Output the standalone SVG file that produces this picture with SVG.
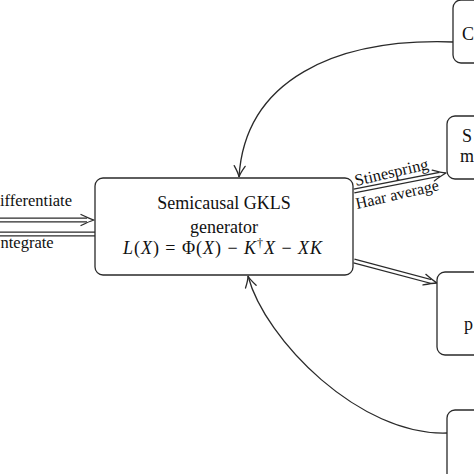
<svg xmlns="http://www.w3.org/2000/svg" xmlns:xlink="http://www.w3.org/1999/xlink" width="474" height="474" viewBox="0 0 474 474">
<style>
.box{fill:#fff;stroke:#2a2a2a;stroke-width:1.3}
.t{font-family:"Liberation Serif","Times New Roman",serif;fill:#111}
.m{font-size:18px}
.l{font-size:16.5px}
.i{font-style:italic}
.curve{fill:none;stroke:#2a2a2a;stroke-width:1.3}
.dbl-o{fill:none;stroke:#2a2a2a;stroke-width:5}
.dbl-i{fill:none;stroke:#fff;stroke-width:2.6}
.head{fill:none;stroke:#2a2a2a;stroke-width:1.3;stroke-linecap:round;stroke-linejoin:round}
</style>
<defs>
<marker id="vh" markerUnits="userSpaceOnUse" markerWidth="24" markerHeight="24" viewBox="-12 -12 24 24" refX="0" refY="0" orient="auto">
<path d="M-11,-5.5 Q-4,-1 0,0 Q-4,1 -11,5.5" fill="none" stroke="#2a2a2a" stroke-width="1.3" stroke-linecap="round"/>
</marker>
<path id="dh" class="head" d="M-13,-5.5 Q-5,-1.5 0,0 Q-5,1.5 -13,5.5"/>
</defs>

<g id="connectors">
<!-- differentiate -->
<path class="dbl-o" d="M-2,220 L87,220"/>
<path class="dbl-i" d="M-2,220 L87.5,220"/>
<use xlink:href="#dh" transform="translate(94,220)"/>
<!-- integrate -->
<path class="dbl-o" d="M-2,234 L95,234"/>
<path class="dbl-i" d="M-2,234 L95,234"/>
<!-- stinespring -->
<path class="dbl-o" d="M354,191 L439.6,174.3"/>
<path class="dbl-i" d="M354,191 L440,174.2"/>
<use xlink:href="#dh" transform="translate(446,173) rotate(-11.07)"/>
<!-- to third node -->
<path class="dbl-o" d="M354,261 L430.7,281.3"/>
<path class="dbl-i" d="M354,261 L431,281.4"/>
<use xlink:href="#dh" transform="translate(437,283) rotate(14.85)"/>
<!-- curves -->
<path class="curve" d="M453,42 C335,38 245,80 239,177" marker-end="url(#vh)"/>
<path class="curve" d="M447,433 C360,436 265,340 248,276" marker-end="url(#vh)"/>
<text class="t l" x="72" y="206" text-anchor="end">ifferentiate</text>
<text class="t l" x="0.5" y="248">ntegrate</text>
<text class="t l" transform="translate(356,186) rotate(-13)">Stinespring</text>
<text class="t" style="font-size:16px" transform="translate(357,209) rotate(-13)">Haar average</text>
</g>

<g id="main">
<rect class="box" x="95" y="178" width="258" height="97" rx="8"/>
<text class="t m" x="224" y="209" text-anchor="middle">Semicausal GKLS</text>
<text class="t m" x="224" y="233" text-anchor="middle">generator</text>
<text class="t m" x="123" y="254" textLength="199" lengthAdjust="spacing"><tspan class="i">L</tspan>(<tspan class="i">X</tspan>) = Φ(<tspan class="i">X</tspan>) − <tspan class="i">K</tspan><tspan dy="-7" style="font-size:12px">†</tspan><tspan dy="7" class="i">X</tspan> − <tspan class="i">XK</tspan></text>
</g>

<g id="node-top">
<rect class="box" x="453" y="0" width="40" height="63" rx="8"/>
<text class="t m" x="462" y="40">C</text>
</g>

<g id="node-second">
<rect class="box" x="447" y="116" width="50" height="63" rx="8"/>
<text class="t m" x="462" y="142">S</text>
<text class="t m" x="460" y="162">m</text>
</g>

<g id="node-third">
<rect class="box" x="437" y="272" width="60" height="83" rx="8"/>
<text class="t m" x="464" y="330">p</text>
</g>

<g id="node-bottom">
<rect class="box" x="447" y="410" width="50" height="80" rx="8"/>
</g>
</svg>
